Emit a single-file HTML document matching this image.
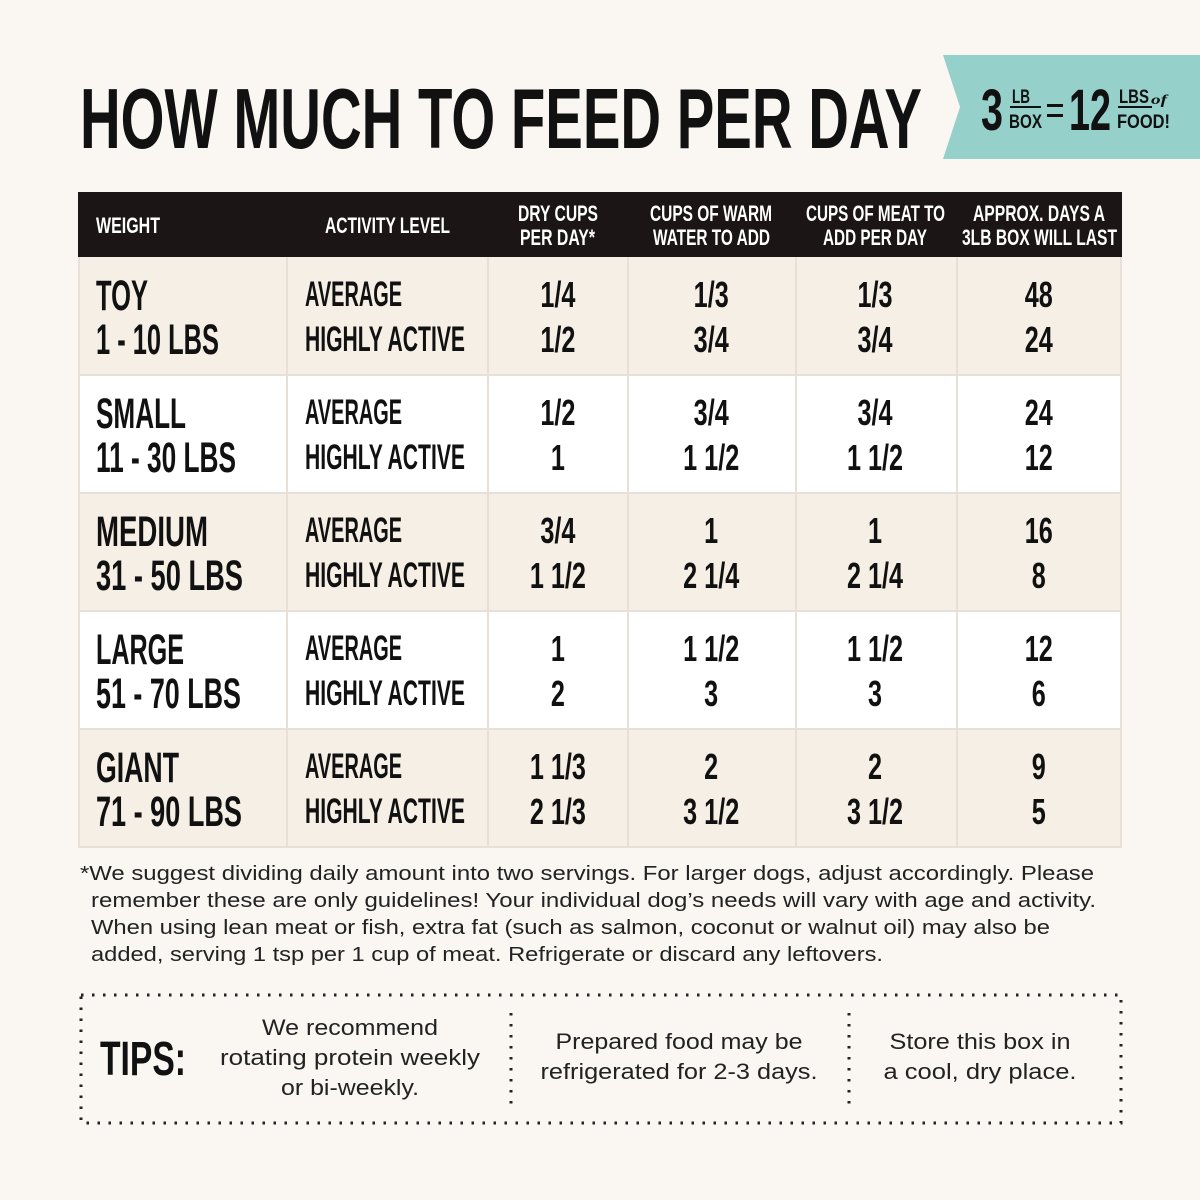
<!DOCTYPE html>
<html><head><meta charset="utf-8"><style>
html,body{margin:0;padding:0;background:#faf7f2;}
svg{display:block;}
</style></head><body>
<svg width="1200" height="1200" viewBox="0 0 1200 1200" xmlns="http://www.w3.org/2000/svg" font-family="'Liberation Sans', sans-serif">
<rect width="1200" height="1200" fill="#faf7f2"/>
<!-- Title -->
<text x="80" y="148" font-size="85" font-weight="bold" fill="#111" textLength="842" lengthAdjust="spacingAndGlyphs">HOW MUCH TO FEED PER DAY</text>
<!-- Badge -->
<polygon points="943,55 1200,55 1200,159 943,159 960,107" fill="#96d0ca"/>
<g font-weight="bold" fill="#111">
<text x="981" y="130" font-size="58" textLength="22" lengthAdjust="spacingAndGlyphs">3</text>
<text x="1012" y="103" font-size="19" textLength="18" lengthAdjust="spacingAndGlyphs">LB</text>
<rect x="1010" y="106" width="31" height="2"/>
<text x="1009" y="128" font-size="19" textLength="33" lengthAdjust="spacingAndGlyphs">BOX</text>
<rect x="1047" y="104" width="16" height="3"/>
<rect x="1047" y="114" width="16" height="3"/>
<text x="1069" y="130" font-size="58" textLength="42" lengthAdjust="spacingAndGlyphs">12</text>
<text x="1119" y="103" font-size="19" textLength="30" lengthAdjust="spacingAndGlyphs">LBS</text>
<text x="1151" y="104" font-size="14" font-style="italic" font-family="'Liberation Serif', serif" textLength="16" lengthAdjust="spacingAndGlyphs">of</text>
<rect x="1118" y="106" width="34" height="2"/>
<text x="1117" y="128" font-size="19" textLength="53" lengthAdjust="spacingAndGlyphs">FOOD!</text>
</g>
<!-- Table -->
<rect x="78" y="192" width="1044" height="65" fill="#1b1515"/>
<rect x="78" y="257" width="1044" height="118" fill="#f6efe6"/>
<rect x="78" y="375" width="1044" height="118" fill="#ffffff"/>
<rect x="78" y="493" width="1044" height="118" fill="#f6efe6"/>
<rect x="78" y="611" width="1044" height="118" fill="#ffffff"/>
<rect x="78" y="729" width="1044" height="118" fill="#f6efe6"/>
<g stroke="#e6e0d8" stroke-width="2">
<line x1="78" y1="375" x2="1122" y2="375"/>
<line x1="78" y1="493" x2="1122" y2="493"/>
<line x1="78" y1="611" x2="1122" y2="611"/>
<line x1="78" y1="729" x2="1122" y2="729"/>
<line x1="78" y1="847" x2="1122" y2="847"/>
<line x1="79" y1="257" x2="79" y2="847"/>
<line x1="1121" y1="257" x2="1121" y2="847"/>
<line x1="287" y1="257" x2="287" y2="847"/>
<line x1="488" y1="257" x2="488" y2="847"/>
<line x1="628" y1="257" x2="628" y2="847"/>
<line x1="796" y1="257" x2="796" y2="847"/>
<line x1="957" y1="257" x2="957" y2="847"/>
</g>
<!-- Header text -->
<g fill="#fff" font-weight="bold" font-size="22">
<text x="96" y="233" textLength="64" lengthAdjust="spacingAndGlyphs">WEIGHT</text>
<text x="325" y="233" textLength="125" lengthAdjust="spacingAndGlyphs">ACTIVITY LEVEL</text>
<text x="518" y="221" textLength="80" lengthAdjust="spacingAndGlyphs">DRY CUPS</text>
<text x="520" y="245" textLength="75" lengthAdjust="spacingAndGlyphs">PER DAY*</text>
<text x="650" y="221" textLength="122" lengthAdjust="spacingAndGlyphs">CUPS OF WARM</text>
<text x="653" y="245" textLength="117" lengthAdjust="spacingAndGlyphs">WATER TO ADD</text>
<text x="806" y="221" textLength="139" lengthAdjust="spacingAndGlyphs">CUPS OF MEAT TO</text>
<text x="823" y="245" textLength="104" lengthAdjust="spacingAndGlyphs">ADD PER DAY</text>
<text x="973" y="221" textLength="132" lengthAdjust="spacingAndGlyphs">APPROX. DAYS A</text>
<text x="962" y="245" textLength="155" lengthAdjust="spacingAndGlyphs">3LB BOX WILL LAST</text>
</g>
<!-- Weight labels -->
<g fill="#111" font-weight="bold" font-size="43">
<text x="96" y="310" textLength="52" lengthAdjust="spacingAndGlyphs">TOY</text>
<text x="96" y="354" textLength="123" lengthAdjust="spacingAndGlyphs">1 - 10 LBS</text>
<text x="96" y="428" textLength="90" lengthAdjust="spacingAndGlyphs">SMALL</text>
<text x="96" y="472" textLength="140" lengthAdjust="spacingAndGlyphs">11 - 30 LBS</text>
<text x="96" y="546" textLength="112" lengthAdjust="spacingAndGlyphs">MEDIUM</text>
<text x="96" y="590" textLength="147" lengthAdjust="spacingAndGlyphs">31 - 50 LBS</text>
<text x="96" y="664" textLength="88" lengthAdjust="spacingAndGlyphs">LARGE</text>
<text x="96" y="708" textLength="145" lengthAdjust="spacingAndGlyphs">51 - 70 LBS</text>
<text x="96" y="782" textLength="83" lengthAdjust="spacingAndGlyphs">GIANT</text>
<text x="96" y="826" textLength="146" lengthAdjust="spacingAndGlyphs">71 - 90 LBS</text>
</g>
<!-- Activity labels -->
<g fill="#111" font-weight="bold" font-size="35">
<text x="305" y="306" textLength="97" lengthAdjust="spacingAndGlyphs">AVERAGE</text>
<text x="305" y="351" textLength="160" lengthAdjust="spacingAndGlyphs">HIGHLY ACTIVE</text>
<text x="305" y="424" textLength="97" lengthAdjust="spacingAndGlyphs">AVERAGE</text>
<text x="305" y="469" textLength="160" lengthAdjust="spacingAndGlyphs">HIGHLY ACTIVE</text>
<text x="305" y="542" textLength="97" lengthAdjust="spacingAndGlyphs">AVERAGE</text>
<text x="305" y="587" textLength="160" lengthAdjust="spacingAndGlyphs">HIGHLY ACTIVE</text>
<text x="305" y="660" textLength="97" lengthAdjust="spacingAndGlyphs">AVERAGE</text>
<text x="305" y="705" textLength="160" lengthAdjust="spacingAndGlyphs">HIGHLY ACTIVE</text>
<text x="305" y="778" textLength="97" lengthAdjust="spacingAndGlyphs">AVERAGE</text>
<text x="305" y="823" textLength="160" lengthAdjust="spacingAndGlyphs">HIGHLY ACTIVE</text>
</g>
<!-- Data numbers -->
<g fill="#111" font-weight="bold" font-size="36" text-anchor="middle" transform="scale(0.7,1)">
<text x="797" y="307">1/4</text><text x="797" y="352">1/2</text>
<text x="1016" y="307">1/3</text><text x="1016" y="352">3/4</text>
<text x="1250" y="307">1/3</text><text x="1250" y="352">3/4</text>
<text x="1484" y="307">48</text><text x="1484" y="352">24</text>

<text x="797" y="425">1/2</text><text x="797" y="470">1</text>
<text x="1016" y="425">3/4</text><text x="1016" y="470">1 1/2</text>
<text x="1250" y="425">3/4</text><text x="1250" y="470">1 1/2</text>
<text x="1484" y="425">24</text><text x="1484" y="470">12</text>

<text x="797" y="543">3/4</text><text x="797" y="588">1 1/2</text>
<text x="1016" y="543">1</text><text x="1016" y="588">2 1/4</text>
<text x="1250" y="543">1</text><text x="1250" y="588">2 1/4</text>
<text x="1484" y="543">16</text><text x="1484" y="588">8</text>

<text x="797" y="661">1</text><text x="797" y="706">2</text>
<text x="1016" y="661">1 1/2</text><text x="1016" y="706">3</text>
<text x="1250" y="661">1 1/2</text><text x="1250" y="706">3</text>
<text x="1484" y="661">12</text><text x="1484" y="706">6</text>

<text x="797" y="779">1 1/3</text><text x="797" y="824">2 1/3</text>
<text x="1016" y="779">2</text><text x="1016" y="824">3 1/2</text>
<text x="1250" y="779">2</text><text x="1250" y="824">3 1/2</text>
<text x="1484" y="779">9</text><text x="1484" y="824">5</text>
</g>
<!-- Footnote -->
<g fill="#222" font-size="20">
<text x="80" y="880" textLength="1014" lengthAdjust="spacingAndGlyphs">*We suggest dividing daily amount into two servings. For larger dogs, adjust accordingly. Please</text>
<text x="91" y="907" textLength="1005" lengthAdjust="spacingAndGlyphs">remember these are only guidelines! Your individual dog’s needs will vary with age and activity.</text>
<text x="91" y="934" textLength="959" lengthAdjust="spacingAndGlyphs">When using lean meat or fish, extra fat (such as salmon, coconut or walnut oil) may also be</text>
<text x="91" y="961" textLength="792" lengthAdjust="spacingAndGlyphs">added, serving 1 tsp per 1 cup of meat. Refrigerate or discard any leftovers.</text>
</g>
<!-- Tips box -->
<rect x="81" y="995" width="1040" height="128" fill="none" stroke="#222" stroke-width="3" stroke-dasharray="2.5 8.5"/>
<line x1="511" y1="1013" x2="511" y2="1106" stroke="#222" stroke-width="3" stroke-dasharray="2.5 8.5"/>
<line x1="849" y1="1013" x2="849" y2="1106" stroke="#222" stroke-width="3" stroke-dasharray="2.5 8.5"/>
<text x="100" y="1075" font-size="48" font-weight="bold" fill="#111" textLength="86" lengthAdjust="spacingAndGlyphs">TIPS:</text>
<g fill="#222" font-size="22" text-anchor="middle">
<text x="350" y="1035" textLength="176" lengthAdjust="spacingAndGlyphs">We recommend</text>
<text x="350" y="1065" textLength="260" lengthAdjust="spacingAndGlyphs">rotating protein weekly</text>
<text x="350" y="1095" textLength="138" lengthAdjust="spacingAndGlyphs">or bi-weekly.</text>
<text x="679" y="1049" textLength="247" lengthAdjust="spacingAndGlyphs">Prepared food may be</text>
<text x="679" y="1079" textLength="277" lengthAdjust="spacingAndGlyphs">refrigerated for 2-3 days.</text>
<text x="980" y="1049" textLength="181" lengthAdjust="spacingAndGlyphs">Store this box in</text>
<text x="980" y="1079" textLength="193" lengthAdjust="spacingAndGlyphs">a cool, dry place.</text>
</g>
</svg>
</body></html>
